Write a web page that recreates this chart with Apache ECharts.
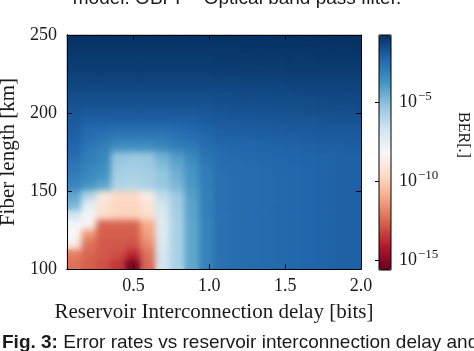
<!DOCTYPE html>
<html>
<head>
<meta charset="utf-8">
<script src="https://cdn.jsdelivr.net/npm/echarts@6/dist/echarts.min.js"></script>
<style>
html,body{margin:0;padding:0;background:#fff}
#wrap{position:relative;width:474px;height:351px;overflow:hidden}
#chart,#frame{position:absolute;left:0;top:0;width:474px;height:351px}
#frame{pointer-events:none}
/* smoothed copy of the heatmap, clipped to the plot area */
#clip{position:absolute;left:67px;top:35px;width:294px;height:234px;overflow:hidden}
#smooth{position:absolute;left:-67px;top:-35px;width:474px;height:351px;filter:blur(3px)}
</style>
</head>
<body>
<div id="wrap">
  <div id="chart"></div>
  <div id="clip"><div id="smooth"></div></div>
  <div id="frame"></div>
</div>
<script>
// reservoir interconnection delay [bits], cell centres
const delays = [0.11, 0.21, 0.31, 0.40, 0.50, 0.60, 0.70, 0.79, 0.89, 0.99,
                1.08, 1.18, 1.28, 1.37, 1.47, 1.57, 1.67, 1.76, 1.86, 1.95];
// fiber length [km], cell centres, bottom to top
const lengths = [103, 109, 116, 122, 128, 134, 141, 147, 153, 159, 166, 172,
                 178, 184, 191, 197, 203, 209, 216, 222, 228, 234, 241, 247];
// log10(BER), one row per fiber length, from 250 km down to 100 km
const berRows = [
  [-0.85,-0.85,-0.85,-0.85,-0.85,-0.85,-0.85,-0.85,-0.85,-0.85,-0.84,-0.84,-0.83,-0.83,-0.82,-0.82,-0.81,-0.8,-0.8,-0.8],
  [-0.95,-0.95,-0.95,-0.95,-0.95,-0.95,-0.95,-0.95,-0.95,-0.95,-0.94,-0.94,-0.93,-0.93,-0.92,-0.92,-0.91,-0.9,-0.9,-0.9],
  [-1.05,-1.05,-1.05,-1.05,-1.05,-1.05,-1.05,-1.05,-1.05,-1.05,-1.04,-1.03,-1.03,-1.02,-1.01,-1.0,-1.0,-0.99,-0.98,-0.98],
  [-1.15,-1.15,-1.15,-1.15,-1.15,-1.15,-1.15,-1.15,-1.15,-1.15,-1.14,-1.13,-1.12,-1.12,-1.11,-1.1,-1.1,-1.09,-1.08,-1.08],
  [-1.3,-1.3,-1.3,-1.3,-1.3,-1.3,-1.3,-1.3,-1.3,-1.3,-1.28,-1.27,-1.26,-1.25,-1.24,-1.23,-1.22,-1.21,-1.2,-1.2],
  [-1.45,-1.45,-1.45,-1.45,-1.45,-1.45,-1.45,-1.45,-1.45,-1.45,-1.43,-1.42,-1.4,-1.39,-1.38,-1.36,-1.35,-1.34,-1.33,-1.32],
  [-1.6,-1.6,-1.6,-1.6,-1.6,-1.6,-1.6,-1.6,-1.6,-1.6,-1.58,-1.56,-1.55,-1.53,-1.52,-1.5,-1.49,-1.47,-1.46,-1.45],
  [-1.75,-1.8,-1.8,-1.8,-1.8,-1.8,-1.8,-1.8,-1.8,-1.78,-1.7,-1.68,-1.66,-1.64,-1.62,-1.6,-1.59,-1.57,-1.56,-1.55],
  [-1.9,-2.0,-2.0,-2.0,-2.0,-2.0,-2.0,-2.0,-2.0,-1.95,-1.85,-1.83,-1.81,-1.79,-1.77,-1.75,-1.74,-1.72,-1.71,-1.7],
  [-2.0,-2.3,-2.35,-2.45,-2.45,-2.45,-2.45,-2.35,-2.25,-2.1,-2.0,-1.98,-1.96,-1.94,-1.92,-1.9,-1.89,-1.87,-1.86,-1.85],
  [-2.1,-2.5,-2.7,-2.9,-2.9,-2.9,-2.9,-2.7,-2.5,-2.3,-2.15,-2.13,-2.1,-2.08,-2.05,-2.03,-2.0,-1.98,-1.96,-1.95],
  [-2.3,-2.8,-3.1,-3.6,-3.6,-3.6,-3.4,-3.1,-2.9,-2.5,-2.3,-2.27,-2.24,-2.21,-2.18,-2.15,-2.12,-2.09,-2.07,-2.05],
  [-2.5,-3.0,-3.3,-5.2,-5.4,-5.3,-4.6,-4.0,-3.4,-2.7,-2.45,-2.4,-2.36,-2.32,-2.28,-2.24,-2.2,-2.16,-2.13,-2.1],
  [-2.8,-3.2,-3.5,-5.5,-5.6,-5.5,-5.0,-4.4,-3.7,-2.9,-2.5,-2.45,-2.4,-2.36,-2.32,-2.28,-2.24,-2.2,-2.15,-2.1],
  [-3.0,-3.4,-3.8,-5.7,-5.8,-5.7,-5.3,-4.6,-3.8,-3.0,-2.6,-2.5,-2.45,-2.4,-2.35,-2.3,-2.25,-2.2,-2.15,-2.1],
  [-3.3,-3.8,-4.3,-5.9,-6.0,-5.8,-5.4,-4.8,-3.9,-3.0,-2.6,-2.5,-2.45,-2.4,-2.35,-2.3,-2.25,-2.2,-2.15,-2.1],
  [-4.3,-6.0,-9.0,-9.7,-9.7,-8.8,-6.3,-5.5,-4.1,-3.1,-2.6,-2.5,-2.45,-2.4,-2.35,-2.3,-2.25,-2.2,-2.15,-2.1],
  [-4.8,-7.5,-9.3,-9.8,-9.8,-9.3,-6.8,-5.6,-4.2,-3.1,-2.6,-2.5,-2.45,-2.4,-2.35,-2.3,-2.25,-2.2,-2.15,-2.1],
  [-6.8,-8.0,-9.6,-9.9,-9.9,-9.5,-7.0,-5.7,-4.2,-3.1,-2.6,-2.5,-2.45,-2.4,-2.35,-2.3,-2.25,-2.2,-2.15,-2.1],
  [-8.0,-8.5,-12.6,-12.6,-12.6,-11.0,-7.2,-5.8,-4.3,-3.2,-2.6,-2.5,-2.45,-2.4,-2.35,-2.3,-2.25,-2.2,-2.15,-2.1],
  [-8.2,-11.5,-12.7,-12.7,-12.7,-11.3,-7.2,-5.8,-4.3,-3.2,-2.6,-2.5,-2.45,-2.4,-2.35,-2.3,-2.25,-2.2,-2.15,-2.1],
  [-8.8,-12.3,-12.8,-12.8,-12.9,-11.8,-7.0,-5.8,-4.3,-3.2,-2.6,-2.5,-2.45,-2.4,-2.35,-2.3,-2.25,-2.2,-2.15,-2.1],
  [-12.0,-12.5,-12.8,-13.0,-13.8,-12.3,-6.9,-5.8,-4.3,-3.2,-2.6,-2.5,-2.45,-2.4,-2.35,-2.3,-2.25,-2.2,-2.15,-2.1],
  [-12.3,-12.7,-13.0,-13.5,-15.3,-12.5,-6.8,-5.8,-4.3,-3.2,-2.6,-2.5,-2.45,-2.4,-2.35,-2.3,-2.25,-2.2,-2.15,-2.1]
];
const delayTicks = [0.5, 1.0, 1.5, 2.0];
const berTicks = [-15, -10, -5];

// RdBu, low (red) to high (blue)
const rdBu = ['#67001f','#b2182b','#d6604d','#f4a582','#fddbc7','#f7f7f7',
              '#d1e5f0','#92c5de','#4393c3','#2166ac','#053061'];
const berMin = -15.63, berMax = -0.76;

const cells = [];
berRows.forEach((row, i) => {
  const yi = berRows.length - 1 - i;
  row.forEach((v, xi) => cells.push([xi, yi, v]));
});

const serif = 'Liberation Serif';
const sans = 'Liberation Sans';
const ink = '#1a1a1a';
const plotGrid = {left: 67, top: 35, width: 294, height: 234, outerBoundsMode: 'none'};

const heatSeries = {
  type: 'heatmap',
  xAxisIndex: 0, yAxisIndex: 0,
  data: cells,
  emphasis: {disabled: true},
  progressive: 0
};
const catX = {type: 'category', gridIndex: 0, data: delays, show: false};
const catY = {type: 'category', gridIndex: 0, data: lengths, show: false};

const tickAxis = (extra) => Object.assign({
  type: 'value',
  gridIndex: 0,
  splitLine: {show: false},
  axisLine: {show: true, lineStyle: {color: '#000', width: 1}},
  axisTick: {show: true, inside: true, length: 5, lineStyle: {color: '#000'}},
  axisLabel: {show: false}
}, extra);

// bottom layer: heatmap, labels, colorbar, captions
const chart = echarts.init(document.getElementById('chart'));
chart.setOption({
  backgroundColor: '#fff',
  animation: false,
  grid: [
    plotGrid,
    {left: 379, top: 35, width: 12, height: 235, show: true, borderColor: '#000', borderWidth: 1,
      z: 10, backgroundColor: 'transparent', outerBoundsMode: 'none'}
  ],
  xAxis: [
    catX,
    tickAxis({
      position: 'bottom', min: 0.0625, max: 2.0,
      axisTick: {show: true, inside: true, length: 5, customValues: delayTicks, lineStyle: {color: '#000'}},
      axisLabel: {show: true, customValues: delayTicks, formatter: v => v.toFixed(1),
        fontFamily: serif, fontSize: 18, color: ink, margin: 8},
      name: 'Reservoir Interconnection delay [bits]',
      nameLocation: 'middle', nameGap: 33,
      nameTextStyle: {fontFamily: serif, fontSize: 21, color: ink}
    }),
    {type: 'value', gridIndex: 1, show: false, min: 0, max: 1}
  ],
  yAxis: [
    catY,
    tickAxis({
      position: 'left', min: 100, max: 250, interval: 50,
      axisLabel: {show: true, fontFamily: serif, fontSize: 18, color: ink, margin: 10},
      name: 'Fiber length [km]',
      nameLocation: 'middle', nameGap: 46, nameRotate: 90,
      nameTextStyle: {fontFamily: serif, fontSize: 21, color: ink}
    }),
    {
      type: 'value', gridIndex: 1, position: 'right', min: berMin, max: berMax,
      splitLine: {show: false},
      axisLine: {show: false},
      axisTick: {show: true, inside: true, length: 4, customValues: berTicks, lineStyle: {color: '#000'}},
      axisLabel: {
        show: true, customValues: berTicks, margin: 8,
        formatter: v => '{b|10}{s|\u2212' + Math.abs(v) + '}',
        rich: {
          b: {fontFamily: serif, fontSize: 18, color: ink},
          s: {fontFamily: serif, fontSize: 13, color: ink, verticalAlign: 'top', padding: [0, 0, 10, 1]}
        }
      }
    }
  ],
  visualMap: {
    type: 'continuous',
    seriesIndex: 0,
    min: berMin, max: berMax,
    calculable: false,
    orient: 'vertical',
    left: 379, top: 35,
    itemWidth: 12, itemHeight: 235,
    padding: 0,
    text: null,
    showLabel: false,
    inRange: {color: rdBu}
  },
  graphic: [
    {type: 'text', left: 'center', top: -11,
      style: {text: 'model. OBPF - Optical band pass filter.', fontFamily: sans, fontSize: 19, fill: ink}},
    {type: 'text', left: 2, top: 333,
      style: {text: '{b|Fig. 3:} Error rates vs reservoir interconnection delay and',
        rich: {b: {fontFamily: sans, fontWeight: 'bold', fontSize: 19, fill: ink}},
        fontFamily: sans, fontSize: 19, fill: ink}},
    {type: 'text', x: 463, y: 135, rotation: -Math.PI / 2,
      style: {text: 'BER[.]', fontFamily: serif, fontSize: 16, fill: ink, align: 'center', verticalAlign: 'middle'}}
  ],
  series: [heatSeries]
});

// middle layer: same heatmap, blurred like an interpolated image
const smooth = echarts.init(document.getElementById('smooth'));
smooth.setOption({
  backgroundColor: 'transparent',
  animation: false,
  grid: [plotGrid],
  xAxis: [catX],
  yAxis: [catY],
  visualMap: {type: 'continuous', show: false, seriesIndex: 0, min: berMin, max: berMax, inRange: {color: rdBu}},
  series: [heatSeries]
});

// top layer: frame and inward ticks
const frame = echarts.init(document.getElementById('frame'));
frame.setOption({
  backgroundColor: 'transparent',
  animation: false,
  grid: [plotGrid],
  xAxis: [
    tickAxis({position: 'bottom', min: 0.0625, max: 2.0,
      axisTick: {show: true, inside: true, length: 5, customValues: delayTicks, lineStyle: {color: '#000'}}}),
    tickAxis({position: 'top', min: 0.0625, max: 2.0,
      axisTick: {show: true, inside: true, length: 5, customValues: delayTicks, lineStyle: {color: '#000'}}})
  ],
  yAxis: [
    tickAxis({position: 'left', min: 100, max: 250, interval: 50}),
    tickAxis({position: 'right', min: 100, max: 250, interval: 50})
  ]
});
</script>
</body>
</html>
